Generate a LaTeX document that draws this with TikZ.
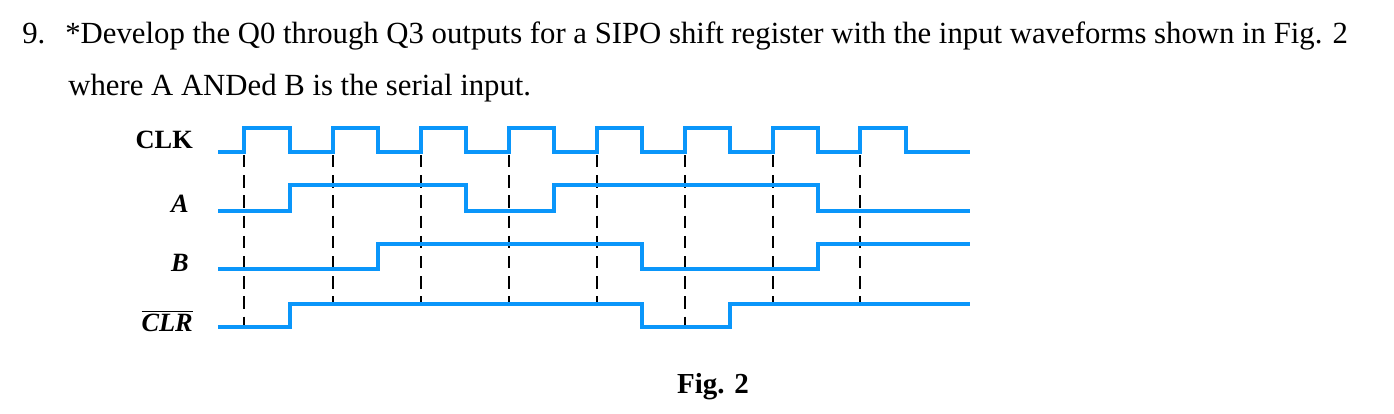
\documentclass[tikz,border=0pt]{standalone}
\usepackage{fontspec}
\setmainfont{Liberation Serif}
\definecolor{wave}{RGB}{10,150,250}
\begin{document}
\begin{tikzpicture}[x=0.02cm,y=-0.02cm,
  sig/.style={wave,line width=2.2pt},
  sigc/.style={wave,line width=2.6pt},
  dsh/.style={black,line width=1.4pt,dash pattern=on 7pt off 4.5pt},
  lab/.style={anchor=east,font=\fontsize{15}{15}\bfseries},
  txt/.style={anchor=west,font=\fontsize{17.5}{19}\selectfont,inner sep=0pt}]
\useasboundingbox (0,0) rectangle (1394,413);
\node[txt] (l1) at (22,36) {9.\hspace{0.65em}*Develop the Q0 through Q3 outputs for a SIPO shift register with the input waveforms shown in Fig. 2};
\node[txt] (l2) at (68,88) {where A ANDed B is the serial input.};
\node[lab] (clk) at (199,140) {CLK};
\node[lab] (a) at (195,204) {\itshape A};
\node[lab] (b) at (195,263) {\itshape B};
\node[lab] (clr) at (199,321) {$\overline{\mbox{\itshape CLR}}$};
\node[font=\fontsize{16.5}{16.5}\bfseries] (fig) at (713,387) {Fig. 2};
% dashed
\foreach \x in {333,421,509,597,773,860} \draw[dsh] (\x,155) -- (\x,304);
\foreach \x in {244,685} \draw[dsh] (\x,155) -- (\x,327);
% CLK
\draw[sigc] (218,152) -- (244,152)
  \foreach \r/\f in {244/290,333/378,421/466,509/554,597/642,685/730,773/818,860/906}{ -- (\r,152) -- (\r,128) -- (\f,128) -- (\f,152)} -- (970,152);
\draw[sig] (218,211) -- (290,211) -- (290,185) -- (466,185) -- (466,211) -- (554,211) -- (554,185) -- (818,185) -- (818,211) -- (970,211);
\draw[sig] (218,269) -- (378,269) -- (378,244) -- (642,244) -- (642,269) -- (818,269) -- (818,244) -- (970,244);
\draw[sig] (218,327) -- (290,327) -- (290,304) -- (642,304) -- (642,327) -- (730,327) -- (730,304) -- (970,304);
\end{tikzpicture}
\end{document}
